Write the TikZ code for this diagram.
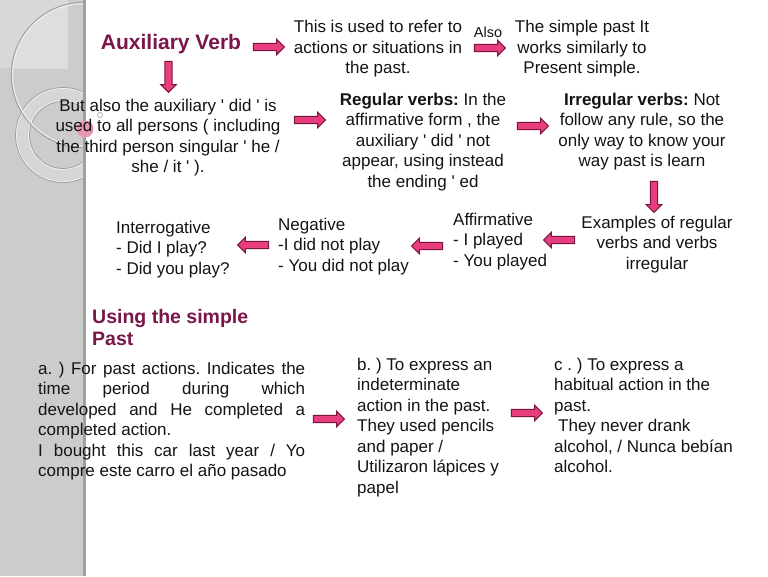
\documentclass[tikz,border=0pt]{standalone}
\usepackage{fontspec}
\setmainfont{Liberation Sans}
\usetikzlibrary{shapes.arrows}
\definecolor{panelgray}{RGB}{204,204,204}
\definecolor{squaregray}{RGB}{216,216,216}
\definecolor{leafgray}{RGB}{222,222,222}
\definecolor{ringgray}{RGB}{214,214,214}
\definecolor{edgegray}{RGB}{160,160,160}
\definecolor{hlgray}{RGB}{236,236,236}
\definecolor{shgray}{RGB}{160,160,160}
\definecolor{titlered}{RGB}{122,22,72}
\definecolor{arrowfill}{RGB}{232,62,128}
\definecolor{arrowline}{RGB}{125,20,62}
\definecolor{textblack}{RGB}{20,20,20}
\definecolor{pinkdot}{RGB}{232,150,178}
\newcommand\sq{\textquotesingle}
\begin{document}
\frenchspacing
\begin{tikzpicture}[x=1pt,y=-1pt,
  txt/.style={inner sep=0pt, font=\fontsize{17}{20.5}\selectfont\frenchspacing, text=textblack},
  ttl/.style={inner sep=0pt, font=\fontsize{21}{22}\selectfont\bfseries, text=titlered},
  barrow/.style={single arrow, draw=arrowline, fill=arrowfill, line width=1pt,
    minimum height=31pt, text height=3.2pt, text depth=3.2pt, text width=0pt,
    single arrow head extend=4pt, inner sep=0pt},
  vbarrow/.style={single arrow, draw=arrowline, fill=arrowfill, line width=1pt,
    minimum height=31pt, text height=0pt, text depth=0pt, text width=6.4pt,
    single arrow head extend=4pt, inner sep=0pt, shape border rotate=270},
  ]
\useasboundingbox[fill=white] (0,0) rectangle (768,576);
% left decorative panel
\begin{scope}
  \clip (0,0) rectangle (84,576);
  \fill[panelgray] (0,0) rectangle (84,576);
  \fill[squaregray] (0,0) rectangle (68,68);
  \begin{scope}
    \clip (0,0) rectangle (68,68);
    \fill[leafgray] (84,75) circle (72);
  \end{scope}
  \fill[ringgray, even odd rule] (63,135) circle (47) (63,135) circle (34);
  \draw[shgray, line width=0.8pt] (63,135) circle (47.5) (63,135) circle (33.5);
  \draw[hlgray, line width=0.8pt] (63,135) circle (46.5) (63,135) circle (34.5);
  \draw[shgray, line width=1.2pt] (84,75) circle (72.6);
  \draw[hlgray, line width=1.2pt] (84,75) circle (71.4);
\end{scope}
\fill[edgegray] (83,0) rectangle (86,576);
\fill[pinkdot] (85,129) circle (8.5);
\draw[shgray, line width=0.6pt] (100,115) circle (2.5);
% texts
\node[ttl] (title) at (171,44) {Auxiliary Verb};
\node[txt, anchor=north, align=center] (refer) at (378,20)
  {This is used to refer to\\actions or situations in\\the past.};
\node[inner sep=0pt, font=\fontsize{14.5}{16}\selectfont, text=textblack] (also) at (488,32) {Also};
\node[txt, anchor=north, align=center] (similar) at (582,20)
  {The simple past It\\works similarly to\\Present simple.};
\node[txt, anchor=north, align=center] (allpersons) at (168,98.5)
  {But also the auxiliary \sq{} did \sq{} is\\used to all persons ( including\\the third person singular \sq{} he /\\she / it \sq{} ).};
\node[txt, anchor=north, align=center] (regular) at (423,92.5)
  {\textbf{Regular verbs:} In the\\affirmative form , the\\auxiliary \sq{} did \sq{} not\\appear, using instead\\the ending \sq{} ed};
\node[txt, anchor=north, align=center] (irregular) at (642,92.5)
  {\textbf{Irregular verbs:} Not\\follow any rule, so the\\only way to know your\\way past is learn};
\node[txt, anchor=north, align=center] (examples) at (657,215.5)
  {Examples of regular\\verbs and verbs\\irregular};
\node[txt, anchor=north west, align=left] (affirm) at (453,212.5)
  {Affirmative\\- I played\\- You played};
\node[txt, anchor=north west, align=left] (neg) at (278,217.5)
  {Negative\\-I did not play\\- You did not play};
\node[txt, anchor=north west, align=left] (interrog) at (116,220.5)
  {Interrogative\\- Did I play?\\- Did you play?};
\node[inner sep=0pt, anchor=north west, align=left, font=\fontsize{19.5}{21.5}\selectfont\bfseries, text=titlered] (using) at (92,309.5)
  {Using the simple\\Past};
\node[txt, anchor=north west] (pasta) at (38,361.5)
  {\parbox[t]{267pt}{\frenchspacing a. ) For past actions. Indicates the\linebreak time period during which\linebreak developed and He completed a\linebreak completed action.\par I bought this car last year / Yo\linebreak compre este carro el año pasado}};
\node[txt, anchor=north west, align=left] (pastb) at (357,357.5)
  {b. ) To express an\\indeterminate\\action in the past.\\They used pencils\\and paper /\\Utilizaron lápices y\\papel};
\node[txt, anchor=north west, align=left] (pastc) at (554,357.5)
  {c . ) To express a\\habitual action in the\\past.\\\hspace*{4pt}They never drank\\alcohol, / Nunca bebían\\alcohol.};
% block arrows
\node[barrow] (r1) at (267,47) {};
\node[barrow] (r2) at (488,48) {};
\node[vbarrow] (d1) at (168.5,75) {};
\node[barrow] (r3) at (308,120) {};
\node[barrow] (r4) at (531,126) {};
\node[vbarrow] (d2) at (654,195) {};
\node[barrow, shape border rotate=180] (l1) at (561,240) {};
\node[barrow, shape border rotate=180] (l2) at (429,246) {};
\node[barrow, shape border rotate=180] (l3) at (255,245) {};
\node[barrow] (r5) at (327,419) {};
\node[barrow] (r6) at (525,413) {};
\end{tikzpicture}
\end{document}
